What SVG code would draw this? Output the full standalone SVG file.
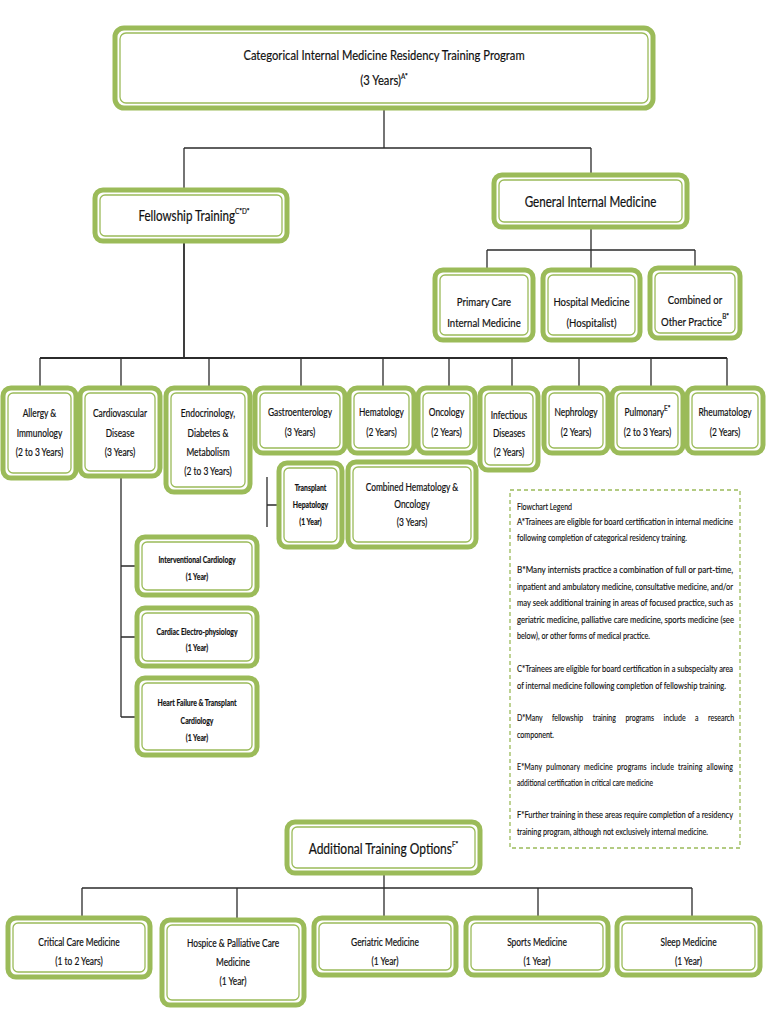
<svg xmlns="http://www.w3.org/2000/svg" width="768" height="1024" viewBox="0 0 768 1024">
<style>
.bo{fill:#fff;stroke:#9BBB59;stroke-width:5}
.bi{fill:none;stroke:#9BBB59;stroke-width:1.3}
.t{font-family:Lato,"Liberation Sans",sans-serif;fill:#111;stroke:#111;stroke-width:0.2;text-anchor:middle}
.s{font-size:8px}
.f14{font-size:14px}
.f145{font-size:14.5px}
.f12{font-size:12px}
.f105{font-size:10.5px}
.fb{font-size:9.5px;font-weight:bold}
.ln{fill:none;stroke:#2b2b2b;stroke-width:1.3}
.lg{font-family:Lato,"Liberation Sans",sans-serif;font-size:10px;fill:#111;stroke:#111;stroke-width:0.15}
.dash{fill:#fff;stroke:#9BBB59;stroke-width:1.3;stroke-dasharray:4 3}
</style>

<g id="connectors">
<path class="ln" d="M384 108V148M184 148H591M184 148V190M591 148V175"/>
<path class="ln" d="M591 227V250M487 250H695M487 250V270M591 250V270M695 250V268"/>
<path class="ln" d="M184 241V358M40 358H727" style="stroke-width:1.8"/>
<path class="ln" d="M40 358V388M121 358V388M209 358V388M301 358V388M383 358V388M449 358V388M512 358V388M579 358V388M651 358V388M727 358V388"/>
<path class="ln" d="M121 476V717M121 566H137M121 637H137M121 717H137"/>
<path class="ln" d="M267 477V527M267 505H279"/>
<path class="ln" d="M384 873V888M82 888H692" />
<path class="ln" d="M82 888V918M237 888V920M384 888V918M538 888V918M692 888V918"/>
</g>

<g id="n-top">
<rect class="bo" x="115" y="28" width="538" height="80" rx="9"/>
<rect class="bi" x="120" y="33" width="528" height="70" rx="6"/>
<g transform="translate(384 0) scale(0.8 1)">
<text class="t f14" y="60">Categorical Internal Medicine Residency Training Program</text>
<text class="t f14" y="85">(3 Years)<tspan class="s" dy="-6">A*</tspan></text>
</g>
</g>

<g id="n-fellowship">
<rect class="bo" x="95" y="190" width="192" height="51" rx="8"/>
<rect class="bi" x="100" y="195" width="182" height="41" rx="5"/>
<g transform="translate(194 0) scale(0.8 1)">
<text class="t f145" y="221">Fellowship Training<tspan class="s" dy="-7">C*D*</tspan></text>
</g>
</g>

<g id="n-general">
<rect class="bo" x="494" y="175" width="193" height="52" rx="8"/>
<rect class="bi" x="499" y="180" width="183" height="42" rx="5"/>
<g transform="translate(590.5 0) scale(0.8 1)">
<text class="t f145" y="207">General Internal Medicine</text>
</g>
</g>

<g id="n-primary">
<rect class="bo" x="435" y="270" width="98" height="70" rx="8"/>
<rect class="bi" x="440" y="275" width="88" height="60" rx="5"/>
<g transform="translate(484 0) scale(0.8 1)">
<text class="t f12" y="306">Primary Care</text>
<text class="t f12" y="327">Internal Medicine</text>
</g>
</g>

<g id="n-hospital">
<rect class="bo" x="543" y="270" width="97" height="70" rx="8"/>
<rect class="bi" x="548" y="275" width="87" height="60" rx="5"/>
<g transform="translate(591.5 0) scale(0.8 1)">
<text class="t f12" y="306">Hospital Medicine</text>
<text class="t f12" y="327">(Hospitalist)</text>
</g>
</g>

<g id="n-combined-practice">
<rect class="bo" x="650" y="268" width="90" height="70" rx="8"/>
<rect class="bi" x="655" y="273" width="80" height="60" rx="5"/>
<g transform="translate(695 0) scale(0.8 1)">
<text class="t f12" y="304">Combined or</text>
<text class="t f12" y="326">Other Practice<tspan class="s" dy="-7">B*</tspan></text>
</g>
</g>

<g id="n-allergy">
<rect class="bo" x="3" y="388" width="73" height="90" rx="8"/>
<rect class="bi" x="8" y="393" width="63" height="80" rx="5"/>
<g transform="translate(39.5 0) scale(0.8 1)">
<text class="t f105" y="417">Allergy &amp;</text>
<text class="t f105" y="437">Immunology</text>
<text class="t f105" y="456">(2 to 3 Years)</text>
</g>
</g>

<g id="n-cardio">
<rect class="bo" x="80" y="388" width="80" height="88" rx="8"/>
<rect class="bi" x="85" y="393" width="70" height="78" rx="5"/>
<g transform="translate(120 0) scale(0.8 1)">
<text class="t f105" y="417">Cardiovascular</text>
<text class="t f105" y="437">Disease</text>
<text class="t f105" y="456">(3 Years)</text>
</g>
</g>

<g id="n-endo">
<rect class="bo" x="166" y="388" width="84" height="104" rx="8"/>
<rect class="bi" x="171" y="393" width="74" height="94" rx="5"/>
<g transform="translate(208 0) scale(0.8 1)">
<text class="t f105" y="417">Endocrinology,</text>
<text class="t f105" y="437">Diabetes &amp;</text>
<text class="t f105" y="456">Metabolism</text>
<text class="t f105" y="475">(2 to 3 Years)</text>
</g>
</g>

<g id="n-gastro">
<rect class="bo" x="255" y="388" width="90" height="65" rx="8"/>
<rect class="bi" x="260" y="393" width="80" height="55" rx="5"/>
<g transform="translate(300 0) scale(0.8 1)">
<text class="t f105" y="416">Gastroenterology</text>
<text class="t f105" y="436">(3 Years)</text>
</g>
</g>

<g id="n-hema">
<rect class="bo" x="349" y="388" width="65" height="65" rx="8"/>
<rect class="bi" x="354" y="393" width="55" height="55" rx="5"/>
<g transform="translate(381.5 0) scale(0.8 1)">
<text class="t f105" y="416">Hematology</text>
<text class="t f105" y="436">(2 Years)</text>
</g>
</g>

<g id="n-onc">
<rect class="bo" x="418" y="388" width="57" height="65" rx="8"/>
<rect class="bi" x="423" y="393" width="47" height="55" rx="5"/>
<g transform="translate(446.5 0) scale(0.8 1)">
<text class="t f105" y="416">Oncology</text>
<text class="t f105" y="436">(2 Years)</text>
</g>
</g>

<g id="n-infectious">
<rect class="bo" x="480" y="388" width="58" height="82" rx="8"/>
<rect class="bi" x="485" y="393" width="48" height="72" rx="5"/>
<g transform="translate(509 0) scale(0.8 1)">
<text class="t f105" y="419">Infectious</text>
<text class="t f105" y="437">Diseases</text>
<text class="t f105" y="456">(2 Years)</text>
</g>
</g>

<g id="n-nephro">
<rect class="bo" x="544" y="388" width="64" height="65" rx="8"/>
<rect class="bi" x="549" y="393" width="54" height="55" rx="5"/>
<g transform="translate(576 0) scale(0.8 1)">
<text class="t f105" y="416">Nephrology</text>
<text class="t f105" y="436">(2 Years)</text>
</g>
</g>

<g id="n-pulm">
<rect class="bo" x="612" y="388" width="71" height="65" rx="8"/>
<rect class="bi" x="617" y="393" width="61" height="55" rx="5"/>
<g transform="translate(647.5 0) scale(0.8 1)">
<text class="t f105" y="416">Pulmonary<tspan class="s" dy="-5">E*</tspan></text>
<text class="t f105" y="436">(2 to 3 Years)</text>
</g>
</g>

<g id="n-rheum">
<rect class="bo" x="687" y="388" width="76" height="65" rx="8"/>
<rect class="bi" x="692" y="393" width="66" height="55" rx="5"/>
<g transform="translate(725 0) scale(0.8 1)">
<text class="t f105" y="416">Rheumatology</text>
<text class="t f105" y="436">(2 Years)</text>
</g>
</g>

<g id="n-transplant-hep">
<rect class="bo" x="279" y="463" width="63" height="84" rx="8"/>
<rect class="bi" x="284" y="468" width="53" height="74" rx="5"/>
<g transform="translate(310.5 0) scale(0.72 1)">
<text class="t fb" y="491">Transplant</text>
<text class="t fb" y="508">Hepatology</text>
<text class="t fb" y="525">(1 Year)</text>
</g>
</g>

<g id="n-combined-hemonc">
<rect class="bo" x="348" y="462" width="128" height="85" rx="8"/>
<rect class="bi" x="353" y="467" width="118" height="75" rx="5"/>
<g transform="translate(412 0) scale(0.8 1)">
<text class="t f105" y="491">Combined Hematology &amp;</text>
<text class="t f105" y="508">Oncology</text>
<text class="t f105" y="526">(3 Years)</text>
</g>
</g>

<g id="n-interventional">
<rect class="bo" x="137" y="537" width="120" height="58" rx="8"/>
<rect class="bi" x="142" y="542" width="110" height="48" rx="5"/>
<g transform="translate(197 0) scale(0.72 1)">
<text class="t fb" y="563">Interventional Cardiology</text>
<text class="t fb" y="580">(1 Year)</text>
</g>
</g>

<g id="n-ep">
<rect class="bo" x="137" y="608" width="120" height="58" rx="8"/>
<rect class="bi" x="142" y="613" width="110" height="48" rx="5"/>
<g transform="translate(197 0) scale(0.72 1)">
<text class="t fb" y="635">Cardiac Electro-physiology</text>
<text class="t fb" y="651">(1 Year)</text>
</g>
</g>

<g id="n-heartfailure">
<rect class="bo" x="137" y="678" width="120" height="77" rx="8"/>
<rect class="bi" x="142" y="683" width="110" height="67" rx="5"/>
<g transform="translate(197 0) scale(0.72 1)">
<text class="t fb" y="706">Heart Failure &amp; Transplant</text>
<text class="t fb" y="724">Cardiology</text>
<text class="t fb" y="741">(1 Year)</text>
</g>
</g>

<g id="legend">
<rect class="dash" x="510" y="490" width="230" height="358"/>
<g transform="translate(517 0) scale(0.7 1)">
<text class="lg" x="0" y="510" textLength="78.6" lengthAdjust="spacingAndGlyphs">Flowchart Legend</text>
<text class="lg" x="0" y="525" textLength="308.6" lengthAdjust="spacingAndGlyphs">A*Trainees are eligible for board certification in internal medicine</text>
<text class="lg" x="0" y="541" textLength="242.9" lengthAdjust="spacingAndGlyphs">following completion of categorical residency training.</text>
<text class="lg" x="0" y="573" textLength="308.6" lengthAdjust="spacingAndGlyphs">B*Many internists practice a combination of full or part-time,</text>
<text class="lg" x="0" y="590" textLength="308.6" lengthAdjust="spacingAndGlyphs">inpatient and ambulatory medicine, consultative medicine, and/or</text>
<text class="lg" x="0" y="606" textLength="308.6" lengthAdjust="spacingAndGlyphs">may seek additional training in areas of focused practice, such as</text>
<text class="lg" x="0" y="623" textLength="310" lengthAdjust="spacingAndGlyphs">geriatric medicine, palliative care medicine, sports medicine (see</text>
<text class="lg" x="0" y="639" textLength="190" lengthAdjust="spacingAndGlyphs">below), or other forms of medical practice.</text>
<text class="lg" x="0" y="672" textLength="308.6" lengthAdjust="spacingAndGlyphs">C*Trainees are eligible for board certification in a subspecialty area</text>
<text class="lg" x="0" y="689" textLength="298.6" lengthAdjust="spacingAndGlyphs">of internal medicine following completion of fellowship training.</text>
<text class="lg" x="0" y="721" word-spacing="11">D*Many fellowship training programs include a research</text>
<text class="lg" x="0" y="738" textLength="52.9" lengthAdjust="spacingAndGlyphs">component.</text>
<text class="lg" x="0" y="770" word-spacing="3" textLength="308.6" lengthAdjust="spacing">E*Many pulmonary medicine programs include training allowing</text>
<text class="lg" x="0" y="786" textLength="194.3" lengthAdjust="spacingAndGlyphs">additional certification in critical care medicine</text>
<text class="lg" x="0" y="818" textLength="308.6" lengthAdjust="spacingAndGlyphs">F*Further training in these areas require completion of a residency</text>
<text class="lg" x="0" y="835" textLength="272.9" lengthAdjust="spacingAndGlyphs">training program, although not exclusively internal medicine.</text>
</g>
</g>

<g id="n-additional">
<rect class="bo" x="287" y="822" width="193" height="51" rx="8"/>
<rect class="bi" x="292" y="827" width="183" height="41" rx="5"/>
<g transform="translate(383.5 0) scale(0.8 1)">
<text class="t" style="font-size:15px" y="854">Additional Training Options<tspan class="s" dy="-7">F*</tspan></text>
</g>
</g>

<g id="n-critical">
<rect class="bo" x="8" y="918" width="142" height="59" rx="8"/>
<rect class="bi" x="13" y="923" width="132" height="49" rx="5"/>
<g transform="translate(79 0) scale(0.8 1)">
<text class="t f105" y="946">Critical Care Medicine</text>
<text class="t f105" y="965">(1 to 2 Years)</text>
</g>
</g>

<g id="n-hospice">
<rect class="bo" x="162" y="920" width="142" height="85" rx="8"/>
<rect class="bi" x="167" y="925" width="132" height="75" rx="5"/>
<g transform="translate(233 0) scale(0.8 1)">
<text class="t f105" y="947">Hospice &amp; Palliative Care</text>
<text class="t f105" y="966">Medicine</text>
<text class="t f105" y="985">(1 Year)</text>
</g>
</g>

<g id="n-geriatric">
<rect class="bo" x="314" y="918" width="142" height="57" rx="8"/>
<rect class="bi" x="319" y="923" width="132" height="47" rx="5"/>
<g transform="translate(385 0) scale(0.8 1)">
<text class="t f105" y="946">Geriatric Medicine</text>
<text class="t f105" y="965">(1 Year)</text>
</g>
</g>

<g id="n-sports">
<rect class="bo" x="466" y="918" width="142" height="57" rx="8"/>
<rect class="bi" x="471" y="923" width="132" height="47" rx="5"/>
<g transform="translate(537 0) scale(0.8 1)">
<text class="t f105" y="946">Sports Medicine</text>
<text class="t f105" y="965">(1 Year)</text>
</g>
</g>

<g id="n-sleep">
<rect class="bo" x="617" y="918" width="143" height="57" rx="8"/>
<rect class="bi" x="622" y="923" width="133" height="47" rx="5"/>
<g transform="translate(688.5 0) scale(0.8 1)">
<text class="t f105" y="946">Sleep Medicine</text>
<text class="t f105" y="965">(1 Year)</text>
</g>
</g>
</svg>
